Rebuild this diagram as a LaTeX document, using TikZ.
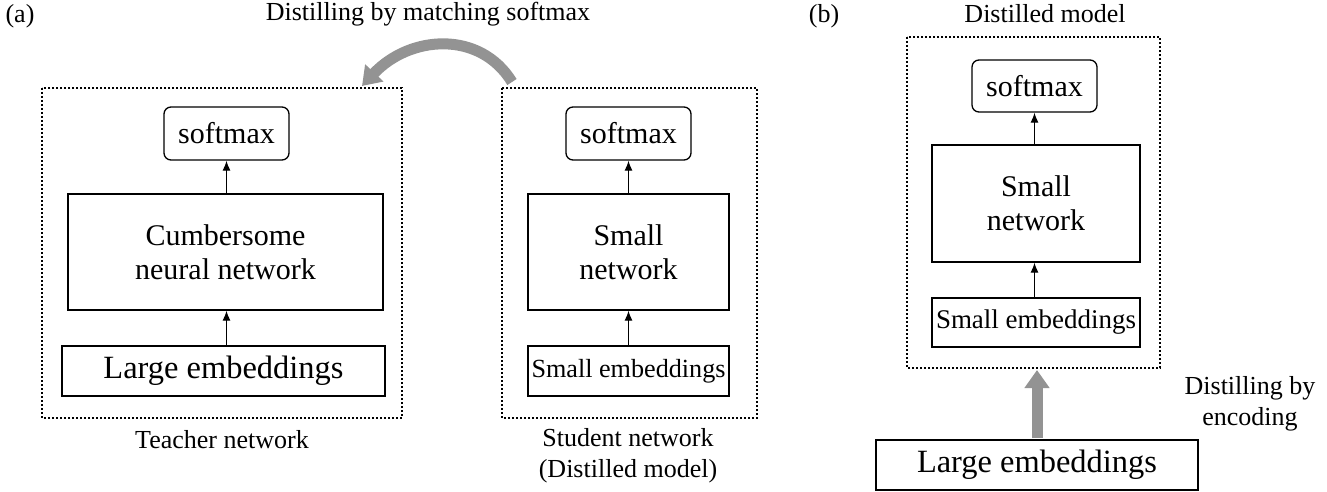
\documentclass[tikz,border=0pt]{standalone}
\usepackage{fontspec}
\setmainfont{Liberation Serif}
\usetikzlibrary{arrows.meta}
\begin{document}
\begin{tikzpicture}[x=1pt,y=-1pt,font=\fontsize{26}{31}\selectfont,
 box/.style={draw,line width=1.3pt,inner sep=0pt,font=\fontsize{30}{34}\selectfont},
 dot/.style={draw,dash pattern=on 2pt off 2pt,line width=1.3pt},
 ar/.style={-{Latex[length=10pt,width=8pt]},line width=1.2pt},
 big/.style={line width=11pt,draw=gray!85,-{Triangle[length=18pt,width=24pt]}},
 lbl/.style={inner sep=0pt,align=center}]
\useasboundingbox (0,0) rectangle (1327,492);
% (a)
\node[lbl] (la) at (20,16) {(a)};
\node[lbl] (t1) at (428,14) {Distilling by matching softmax};
\draw[dot] (42,88) rectangle (402,418);
\node[box,rounded corners=7pt,minimum width=125pt,minimum height=53pt] (s1) at (226.5,133.5) {softmax};
\node[box,minimum width=315pt,minimum height=116pt,align=center] (c1) at (225.5,252) {Cumbersome\\neural network};
\node[box,minimum width=323pt,minimum height=50pt] (e1) at (223.5,371) {\resizebox{240pt}{!}{Large embeddings}};
\draw[ar] (c1.north -| s1) -- (s1.south);
\draw[ar] (e1.north -| s1) -- (c1.south -| s1);
\node[lbl] (tn) at (222,440) {Teacher network};
\draw[dot] (502,88) rectangle (757,418);
\node[box,rounded corners=7pt,minimum width=125pt,minimum height=53pt] (s2) at (628.5,133.5) {softmax};
\node[box,minimum width=201pt,minimum height=116pt,align=center] (c2) at (628.5,252) {Small\\network};
\node[box,minimum width=201pt,minimum height=50pt] (e2) at (628.5,371) {\resizebox{194pt}{!}{Small embeddings}};
\draw[ar] (c2) -- (s2);
\draw[ar] (e2) -- (c2);
\node[lbl] (sn) at (628,456) {Student network\\(Distilled model)};
\coordinate (p1) at (512,82);
\coordinate (p2) at (362,86);
\draw[big] (p1) .. controls (480,30) and (410,35) .. (p2);
% (b)
\node[lbl] (lb) at (824,16) {(b)};
\node[lbl] (dm) at (1045,14) {Distilled model};
\draw[dot] (907,37) rectangle (1160,368);
\node[box,rounded corners=7pt,minimum width=125pt,minimum height=52pt] (s3) at (1034.5,86) {softmax};
\node[box,minimum width=208pt,minimum height=117pt,align=center] (c3) at (1036,203.5) {Small\\network};
\node[box,minimum width=208pt,minimum height=49pt] (e3) at (1036,322.5) {\resizebox{200pt}{!}{Small embeddings}};
\draw[ar] (c3.north -| s3) -- (s3.south);
\draw[ar] (e3.north -| s3) -- (c3.south -| s3);
\node[box,minimum width=322pt,minimum height=50pt] (e4) at (1037,465) {\resizebox{240pt}{!}{Large embeddings}};
\coordinate (q1) at (1037,438);
\coordinate (q2) at (1037,370);
\draw[big] (q1) -- (q2);
\node[lbl] (de) at (1250,404) {Distilling by\\encoding};
\end{tikzpicture}
\end{document}
